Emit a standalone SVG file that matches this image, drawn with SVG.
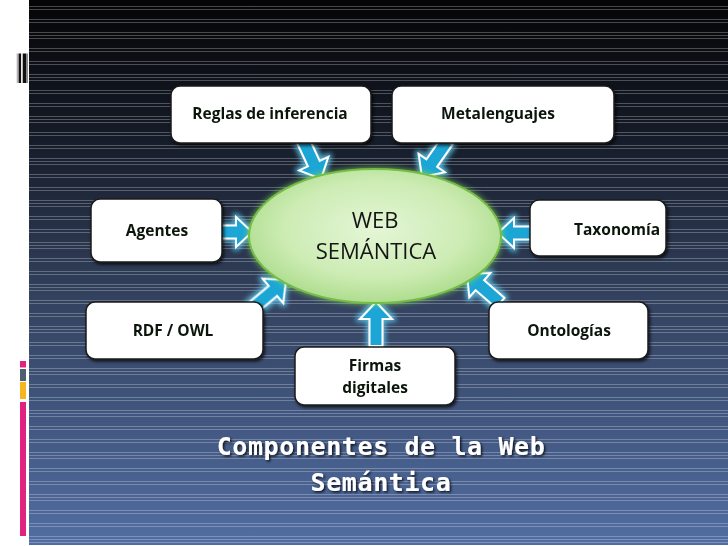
<svg xmlns="http://www.w3.org/2000/svg" width="728" height="546" viewBox="0 0 728 546">
<defs>
<linearGradient id="bg" x1="0" y1="0" x2="0" y2="1">
<stop offset="0" stop-color="#050506"/>
<stop offset="0.25" stop-color="#151b28"/>
<stop offset="0.55" stop-color="#33425f"/>
<stop offset="1" stop-color="#516da2"/>
</linearGradient>
<pattern id="lines" x="0" y="0" width="728" height="42" patternUnits="userSpaceOnUse">
<g stroke="#ffffff" stroke-opacity="0.26" stroke-width="1">
<line x1="0" y1="6.5" x2="728" y2="6.5"/>
<line x1="0" y1="9.5" x2="728" y2="9.5"/>
<line x1="0" y1="19.5" x2="728" y2="19.5"/>
<line x1="0" y1="22.5" x2="728" y2="22.5"/>
<line x1="0" y1="32.5" x2="728" y2="32.5"/>
<line x1="0" y1="35.5" x2="728" y2="35.5"/>
<line x1="0" y1="38.5" x2="728" y2="38.5"/>
</g>
</pattern>
<radialGradient id="ellFill" cx="0.5" cy="0.45" r="0.6">
<stop offset="0" stop-color="#e4f6d6"/>
<stop offset="0.6" stop-color="#cdecb4"/>
<stop offset="1" stop-color="#a6d985"/>
</radialGradient>
<filter id="shadow" x="-10%" y="-20%" width="120%" height="150%">
<feDropShadow dx="1.5" dy="2" stdDeviation="1.8" flood-color="#000" flood-opacity="0.7"/>
</filter>
<filter id="glowG" x="-20%" y="-30%" width="140%" height="160%">
<feFlood flood-color="#8ee05a" flood-opacity="0.8"/>
<feComposite operator="in" in2="SourceAlpha"/>
<feGaussianBlur stdDeviation="3" result="g"/>
<feMerge><feMergeNode in="g"/><feMergeNode in="SourceGraphic"/></feMerge>
</filter>
<filter id="glowC" x="-50%" y="-50%" width="200%" height="200%">
<feMorphology in="SourceAlpha" operator="dilate" radius="2" result="d"/>
<feGaussianBlur in="d" stdDeviation="2.5" result="b"/>
<feFlood flood-color="#5fd0f5" flood-opacity="0.8"/>
<feComposite operator="in" in2="b" result="g"/>
<feMerge><feMergeNode in="g"/><feMergeNode in="SourceGraphic"/></feMerge>
</filter>
<filter id="tshadow" x="-5%" y="-20%" width="110%" height="150%">
<feDropShadow dx="1.5" dy="1.5" stdDeviation="1" flood-color="#000" flood-opacity="0.8"/>
</filter>
<path id="arrS" d="M0,0 L-16,-15 L-16,-6.5 L-34,-6.5 L-34,6.5 L-16,6.5 L-16,15 Z"/>
<path id="arrL" d="M0,0 L-17,-16 L-17,-6.5 L-44,-6.5 L-44,6.5 L-17,6.5 L-17,16 Z"/>
</defs>
<style>
.box{fill:#ffffff;stroke:#1a1a1a;stroke-width:1.5;filter:url(#shadow)}
.lbl{font-family:"Open Sans","Liberation Sans",sans-serif;font-weight:bold;font-size:15.5px;fill:#0b150b;text-anchor:middle}
.ell{font-family:"Open Sans","Liberation Sans",sans-serif;font-size:22px;fill:#151515;text-anchor:middle}
.arrow use{fill:#1aa6d6;stroke:#ffffff;stroke-width:2;stroke-linejoin:miter}
.title{font-family:"DejaVu Sans Mono","Liberation Mono",monospace;font-weight:bold;font-size:25px;fill:#ffffff;text-anchor:middle;letter-spacing:0.6px;filter:url(#tshadow)}
</style>
<rect x="0" y="0" width="728" height="546" fill="#ffffff"/>
<rect x="29" y="0" width="699" height="545" fill="url(#bg)"/>
<rect x="29" y="0" width="699" height="545" fill="url(#lines)"/>
<!-- left decorations -->
<rect x="16.7" y="53.5" width="2" height="29.5" fill="#b0b0b0"/>
<rect x="18.7" y="53.5" width="2.6" height="29.5" fill="#111"/>
<rect x="21.3" y="53.5" width="1.4" height="29.5" fill="#ffffff"/>
<rect x="22.7" y="53.5" width="3.3" height="29.5" fill="#111"/>
<rect x="26" y="53.5" width="2" height="29.5" fill="#8a8a8a"/>
<rect x="20" y="361" width="6" height="6.5" fill="#e0237f"/>
<rect x="20" y="369" width="6" height="12" fill="#4f5f70"/>
<rect x="20" y="382" width="6" height="17" fill="#f6b622"/>
<rect x="20" y="402" width="6" height="134" fill="#e0237f"/>

<g id="connectors" class="arrow" filter="url(#glowC)">
<use href="#arrL" transform="translate(321,179) rotate(65)"/>
<use href="#arrL" transform="translate(422,177) rotate(125)"/>
<use href="#arrS" transform="translate(252,232)"/>
<use href="#arrS" transform="translate(498,233) rotate(180)"/>
<use href="#arrL" transform="translate(286,280) rotate(-40)"/>
<use href="#arrL" transform="translate(467,274) rotate(-139)"/>
<use href="#arrL" transform="translate(376,302) rotate(-90)"/>
</g>

<g id="web-semantica">
<ellipse cx="375" cy="236" rx="126" ry="67" fill="url(#ellFill)" stroke="#74bd45" stroke-width="2" filter="url(#glowG)"/>
<text class="ell" x="375" y="228">WEB</text>
<text class="ell" x="376" y="259">SEMÁNTICA</text>
</g>

<g id="reglas">
<rect class="box" x="171" y="86" width="200" height="57" rx="9"/>
<text class="lbl" x="270" y="119">Reglas de inferencia</text>
</g>
<g id="metalenguajes">
<rect class="box" x="392" y="86" width="222" height="57" rx="9"/>
<text class="lbl" x="498" y="119">Metalenguajes</text>
</g>
<g id="agentes">
<rect class="box" x="91" y="199" width="131" height="63" rx="9"/>
<text class="lbl" x="157" y="236">Agentes</text>
</g>
<g id="taxonomia">
<rect class="box" x="530" y="200" width="136" height="56" rx="9"/>
<text class="lbl" x="617" y="235">Taxonomía</text>
</g>
<g id="rdf-owl">
<rect class="box" x="86" y="302" width="177" height="57" rx="9"/>
<text class="lbl" x="173" y="336">RDF  / OWL</text>
</g>
<g id="ontologias">
<rect class="box" x="489" y="302" width="159" height="57" rx="9"/>
<text class="lbl" x="569" y="336">Ontologías</text>
</g>
<g id="firmas">
<rect class="box" x="295" y="347" width="160" height="58" rx="9"/>
<text class="lbl" x="375" y="371">Firmas</text>
<text class="lbl" x="375" y="393">digitales</text>
</g>

<g id="title">
<text class="title" x="381" y="455">Componentes de la Web</text>
<text class="title" x="381" y="491">Semántica</text>
</g>
</svg>
